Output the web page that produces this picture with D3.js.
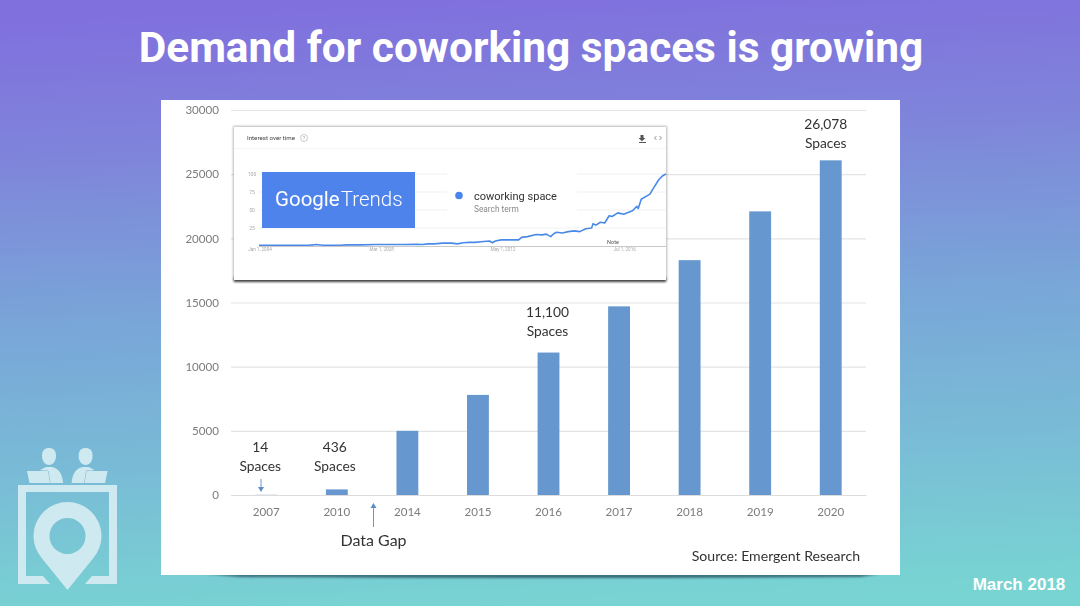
<!DOCTYPE html>
<html><head><meta charset="utf-8">
<script src="https://cdn.jsdelivr.net/npm/d3@7"></script>
<style>html,body{margin:0;padding:0;overflow:hidden;background:#7aa5d8}svg{display:block}</style>
</head><body><svg id="c" width="1080" height="606"></svg>
<script>
const titleText = "Demand for coworking spaces is growing";
const dateText = "March 2018";
const categories = ["2007","2010","2014","2015","2016","2017","2018","2019","2020"];
const spaces = [14,436,5000,7800,11100,14700,18300,22100,26078];
const yTicks = [0,5000,10000,15000,20000,25000,30000];
const annotations = [
  {cat:"2007",lines:["14","Spaces"],dx:-6,value:2900},
  {cat:"2010",lines:["436","Spaces"],dx:-2,value:2900},
  {cat:"2016",lines:["11,100","Spaces"],dx:-1,value:13700},
  {cat:"2020",lines:["26,078","Spaces"],dx:-5,value:28500}
];
const sourceText = "Source: Emergent Research";
const gapText = "Data Gap";
const trendYears = [2004,2005,2005.7,2005.85,2005.95,2006.2,2006.8,2007,2007.5,2008,2008.5,2009,2009.4,2009.6,2009.8,2010,2010.3,2010.6,2010.8,2011,2011.2,2011.4,2011.6,2011.9,2012,2012.1,2012.3,2012.6,2012.9,2013,2013.2,2013.5,2013.7,2013.85,2014,2014.1,2014.2,2014.4,2014.6,2014.8,2015,2015.2,2015.4,2015.45,2015.55,2015.7,2015.85,2016,2016.1,2016.3,2016.5,2016.8,2016.95,2017,2017.1,2017.4,2017.5,2017.7,2017.85,2017.95];
const trendValues = [1,1,1,1.5,2,1,1,1.5,1.5,2,2,2,2.5,2,3,3,4,4,3,4.5,5,5,6,7,4.5,7,8.5,8.5,8.5,12,13,16,15.5,16.5,13,17,19,18,20,21,20,24,25,31,29,33,32,42,41,46,44,49,55,52,65,72,79,92,98,100];
const trendTicks = [25,50,75,100];
const trendDates = [{year:2004,label:"Jan 1, 2004"},{year:2008.17,label:"Mar 1, 2008"},{year:2012.33,label:"May 1, 2012"},{year:2016.5,label:"Jul 1, 2016"}];

const svg = d3.select("#c");
const defs = svg.append("defs");
const bg = defs.append("linearGradient").attr("id","bg").attr("x1","0.46").attr("y1","0").attr("x2","0.54").attr("y2","1");
[[0,"#8070de"],[0.22,"#7f84da"],[0.5,"#79a6d8"],[0.75,"#79bcd6"],[1,"#78d4d2"]].forEach(s=>bg.append("stop").attr("offset",s[0]).attr("stop-color",s[1]));
const mkBlur=(id,sd)=>defs.append("filter").attr("id",id).attr("x","-20%").attr("y","-50%").attr("width","140%").attr("height","200%").append("feGaussianBlur").attr("stdDeviation",sd);
mkBlur("soft",0.4); mkBlur("b2",2); mkBlur("b1",1.2); mkBlur("s2",0.3);

svg.append("rect").attr("width",1080).attr("height",606).attr("fill","url(#bg)");
svg.append("text").attr("x",531).attr("y",62).attr("text-anchor","middle").attr("font-family","Roboto").attr("font-weight",700).attr("font-size",42.4).attr("fill","#fff").text(titleText);
svg.append("text").attr("x",1019).attr("y",590).attr("text-anchor","middle").attr("font-family","Liberation Sans").attr("font-weight",700).attr("font-size",17).attr("fill","#fff").text(dateText);

// logo
const icon = svg.append("g").attr("fill","#cfe9f0");
icon.append("path").attr("fill-rule","evenodd").attr("d","M18,485H117V584H85L92,576H109V492H26V576H43L50,584H18Z");
icon.append("path").attr("fill-rule","evenodd").attr("d","M67.5,590L42,558.5A34,34 0 1 1 93,558.5Z M67.5,518a18,18 0 1 0 0.01,0Z");
[0,1].forEach(i=>{
  const g = icon.append("g").attr("transform", i? "translate(134.6,0) scale(-1,1)":null);
  g.append("path").attr("d","M42,456C42,450 45,448 49,448C53,448 56,450 56,456C56,461 53,465 49,465C45,465 42,461 42,456Z");
  g.append("path").attr("d","M40,470L46,467L52,467Q62,469 63,483H48L46,472Z");
  g.append("path").attr("d","M27,471H48L50,483H29.5Z").attr("stroke","#7cb4d3").attr("stroke-width",1).attr("paint-order","stroke");
});

// card
svg.append("path").attr("d","M205,574H880L860,577Q540,579 240,577Z").attr("fill","#2f5a66").attr("opacity",0.85).attr("filter","url(#b1)");
svg.append("rect").attr("x",161).attr("y",100).attr("width",739).attr("height",475).attr("fill","#fff");

// main chart
const main = svg.append("g").attr("filter","url(#s2)");
const x = d3.scaleBand().domain(categories).range([231,866]).paddingInner(0.69).paddingOuter(0.345);
const y = d3.scaleLinear().domain([0,30000]).range([495,110]);
const chartFont = "Lato";
const gy = main.append("g").call(d3.axisLeft(y).tickValues(yTicks).tickSize(-635).tickPadding(12).tickFormat(d3.format("d"))).attr("transform","translate(231,0)");
gy.select(".domain").remove();
gy.selectAll("line").attr("stroke","#e4e4e4").attr("stroke-width",1.2);
gy.selectAll("text").attr("font-family",chartFont).attr("font-size",11.6).attr("fill","#7c7c7c");
main.append("g").selectAll("rect").data(categories).join("rect")
  .attr("x",d=>x(d)).attr("width",x.bandwidth())
  .attr("y",(d,i)=>y(spaces[i])).attr("height",(d,i)=>y(0)-y(spaces[i])).attr("fill","#6698cf");
const gx = main.append("g").attr("transform","translate(0,495)").call(d3.axisBottom(x).tickSize(0).tickPadding(13));
gx.select(".domain").attr("stroke","#dcdcdc").attr("stroke-width",1.2);
gx.selectAll("text").attr("font-family",chartFont).attr("font-size",11.6).attr("fill","#7c7c7c");

annotations.forEach(a=>{
  const t = main.append("text").attr("text-anchor","middle").attr("font-family",chartFont).attr("font-size",13.8).attr("fill","#333");
  a.lines.forEach((l,i)=>t.append("tspan").attr("x",x(a.cat)+x.bandwidth()/2+a.dx).attr("y",y(a.value)+i*19+ (a.value===2900?-6:0)-(a.value===13700?2:0)).text(l));
});
const arrow=(xp,y1,y2)=>{
  const dir = y2>y1?1:-1;
  main.append("line").attr("x1",xp).attr("x2",xp).attr("y1",y1).attr("y2",y2-dir*4).attr("stroke","#6698cf").attr("stroke-width",1);
  main.append("path").attr("d",`M${xp-3},${y2-dir*5}L${xp+3},${y2-dir*5}L${xp},${y2}Z`).attr("fill","#5b8fc7");
};
arrow(261,479,492); arrow(373.5,527,503);
main.append("text").attr("x",373.5).attr("y",546).attr("text-anchor","middle").attr("font-family",chartFont).attr("font-size",16).attr("fill","#333").text(gapText);
main.append("text").attr("x",860).attr("y",561).attr("text-anchor","end").attr("font-family",chartFont).attr("font-size",14.1).attr("fill","#333").text(sourceText);

// inset
const inset = svg.append("g");
inset.append("rect").attr("x",233).attr("y",126).attr("width",434).attr("height",155).attr("fill","#555").attr("opacity",0.4).attr("filter","url(#b1)");
inset.append("rect").attr("x",234).attr("y",277).attr("width",432).attr("height",5).attr("fill","#222").attr("opacity",0.8).attr("filter","url(#b1)");
inset.append("rect").attr("x",234).attr("y",127).attr("width",432).attr("height",153).attr("fill","#fff");
const ins = inset.append("g").attr("filter","url(#soft)");
const tx = d3.scaleLinear().domain([2004,2017.95]).range([259,666]);
const ty = d3.scaleLinear().domain([0,100]).range([246,174]);
ins.append("line").attr("x1",234).attr("x2",666).attr("y1",148.5).attr("y2",148.5).attr("stroke","#f4f4f4");
ins.append("text").attr("x",247).attr("y",140).attr("font-family","Roboto").attr("font-size",6.2).attr("fill","#444").text("Interest over time");
ins.append("circle").attr("cx",304).attr("cy",138).attr("r",3.5).attr("fill","none").attr("stroke","#aaa").attr("stroke-width",0.6);
ins.append("text").attr("x",304).attr("y",140).attr("text-anchor","middle").attr("font-family","Roboto").attr("font-size",5).attr("fill","#999").text("?");
ins.append("path").attr("d","M640.5,135h3v3h2l-3.5,3.2l-3.5,-3.2h2Z M639,142h7v1h-7Z").attr("fill","#555");
ins.append("path").attr("d","M656.5,136l-2,2l2,2 M659.5,136l2,2l-2,2").attr("fill","none").attr("stroke","#666").attr("stroke-width",0.7);
ins.append("g").selectAll("line").data(trendTicks).join("line").attr("x1",259).attr("x2",666).attr("y1",d=>ty(d)).attr("y2",d=>ty(d)).attr("stroke","#eeeeee").attr("stroke-width",0.8);
ins.append("g").selectAll("text").data(trendTicks).join("text").attr("x",252).attr("y",d=>ty(d)+1.7).attr("text-anchor","middle").attr("font-family","Roboto").attr("font-size",5).attr("fill","#aaa").text(d=>d);
ins.append("line").attr("x1",259).attr("x2",666).attr("y1",246.5).attr("y2",246.5).attr("stroke","#bbb").attr("stroke-width",0.8);
ins.append("g").selectAll("text.d").data(trendDates).join("text").attr("x",d=>tx(d.year)+1).attr("y",250.5).attr("text-anchor","middle").attr("font-family","Roboto").attr("font-size",4.6).attr("fill","#aaa").text(d=>d.label);
ins.append("rect").attr("x",447).attr("y",172).attr("width",130).attr("height",46).attr("fill","#fff");
ins.append("path").datum(d3.zip(trendYears,trendValues)).attr("fill","none").attr("stroke","#4a8ae8").attr("stroke-width",1.6).attr("stroke-linejoin","round")
  .attr("d",d3.line().x(d=>tx(d[0])).y(d=>ty(d[1])));
ins.append("text").attr("x",613).attr("y",244).attr("text-anchor","middle").attr("font-family","Roboto").attr("font-size",5.5).attr("fill","#555").text("Note");
ins.append("rect").attr("x",262).attr("y",172).attr("width",153).attr("height",56).attr("fill","#4f83ec");
const gt = ins.append("text").attr("x",275).attr("y",206).attr("font-family","Roboto").attr("font-size",20.5).attr("fill","#fff").attr("font-weight",400);
gt.append("tspan").text("Google"); gt.append("tspan").attr("dx",1).attr("font-weight",300).text("Trends");
ins.append("circle").attr("cx",459).attr("cy",195.5).attr("r",3.8).attr("fill","#4a85ec");
ins.append("text").attr("x",474).attr("y",200).attr("font-family","Roboto").attr("font-size",11).attr("fill","#333").text("coworking space");
ins.append("text").attr("x",474).attr("y",212).attr("font-family","Roboto").attr("font-size",8.3).attr("fill","#888").text("Search term");
</script></body></html>
